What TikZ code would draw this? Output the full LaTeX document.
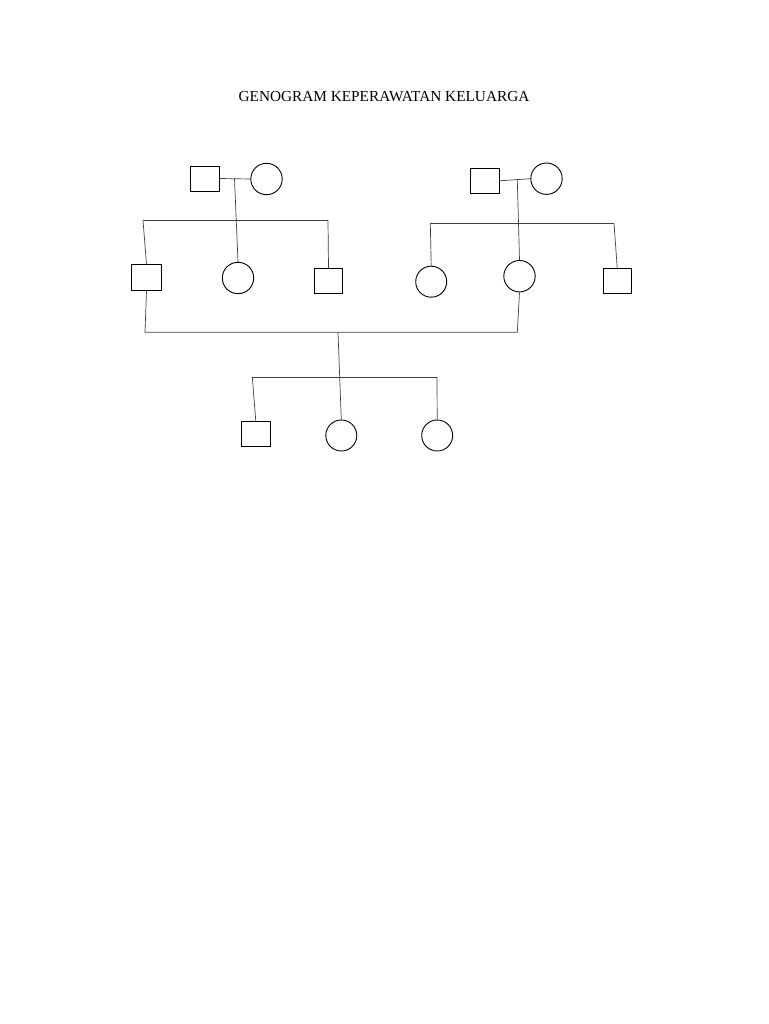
\documentclass[tikz,border=0pt]{standalone}
\usepackage{fontspec}
\setmainfont{Liberation Serif}
\begin{document}
\begin{tikzpicture}[x=1pt,y=-1pt,
  male/.style={draw=black,line width=0.9pt,rectangle,minimum width=28.5pt,minimum height=25pt,inner sep=0pt},
  female/.style={draw=black,line width=0.9pt,circle,minimum size=31.4pt,inner sep=0pt},
  link/.style={draw=black!75,line width=0.7pt},
  titlestyle/.style={font=\fontsize{15.3}{17}\selectfont,inner sep=0pt}]
\useasboundingbox (0,0) rectangle (768,1024);
\fill[white] (0,0) rectangle (768,1024);
\node[titlestyle] (title) at (384,96.5) {GENOGRAM KEPERAWATAN KELUARGA};
% left grandparents
\node[male] (gf1) at (205,178.5) {};
\node[female] (gm1) at (266.5,179) {};
\coordinate (m1) at (234.5,179);
\coordinate (s1a) at (143,220.5);
\coordinate (s1b) at (328,220.5);
\node[male,minimum width=29.6pt,minimum height=26pt] (c1) at (146.5,277.7) {};
\node[female] (c2) at (238,278) {};
\node[male] (c3) at (328.5,280.8) {};
% right grandparents
\node[male] (gf2) at (485,180.8) {};
\node[female] (gm2) at (546.5,178.7) {};
\coordinate (m2) at (517.3,180);
\coordinate (s2a) at (430.3,223.3);
\coordinate (s2b) at (614,223.3);
\node[female,minimum size=31pt] (d1) at (431.2,281.7) {};
\node[female] (d2) at (519.5,276.2) {};
\node[male] (d3) at (617.2,280.8) {};
% grandchildren
\coordinate (b1) at (145,332.3);
\coordinate (b2) at (517.3,332.3);
\coordinate (p) at (338,332.3);
\coordinate (s3a) at (252.3,377);
\coordinate (s3b) at (437,377);
\node[male,minimum width=29pt] (g1) at (255.8,434.2) {};
\node[female,minimum size=31pt] (g2) at (341.3,435.5) {};
\node[female,minimum size=31pt] (g3) at (437.2,435.5) {};
% connectors
\draw[link] (gf1.east) -- (gm1.west);
\draw[link] (m1) -- (c2.north);
\draw[link] (s1a) -- (s1b);
\draw[link] (s1a) -- (c1.north);
\draw[link] (s1b) -- (c3.north);
\draw[link] (gf2.east) -- (gm2.west);
\draw[link] (m2) -- (d2.north);
\draw[link] (s2a) -- (s2b);
\draw[link] (s2a) -- (d1.north);
\draw[link] (s2b) -- (d3.north);
\draw[link] (c1.south) -- (b1) -- (b2) -- (d2.south);
\draw[link] (p) -- (g2.north);
\draw[link] (s3a) -- (s3b);
\draw[link] (s3a) -- (g1.north);
\draw[link] (s3b) -- (g3.north);
\end{tikzpicture}
\end{document}
